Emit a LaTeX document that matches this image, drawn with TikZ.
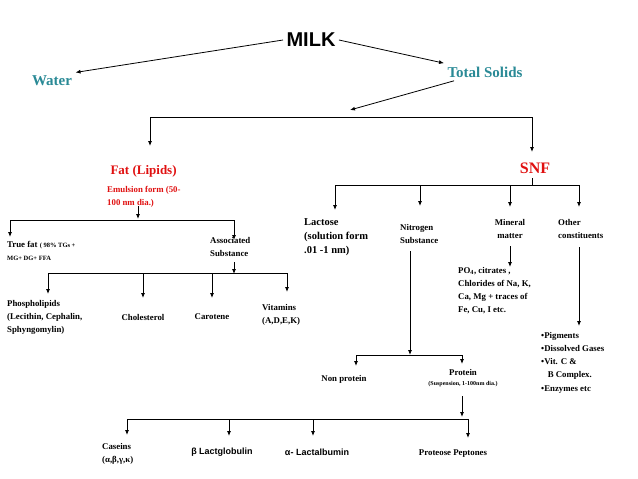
\documentclass[tikz,border=0pt]{standalone}
\usepackage{fontspec}
\setmainfont{Liberation Serif}
\setsansfont{Liberation Sans}
\usetikzlibrary{arrows.meta}
\definecolor{teal2}{HTML}{2A8A96}
\definecolor{red2}{HTML}{E01010}
\begin{document}
\begin{tikzpicture}[x=1pt,y=-1pt,
  t/.style={font=\bfseries\fontsize{8.8}{13.2}\selectfont,align=left,inner sep=0pt},
  m/.style={font=\bfseries\fontsize{10.5}{14}\selectfont,align=left,inner sep=0pt},
  ar/.style={-{Latex[length=5pt,width=4pt]},line width=0.8pt},
  ln/.style={line width=0.8pt}]
\useasboundingbox (0,0) rectangle (638,479);
\node[font=\sffamily\bfseries\fontsize{20}{24}\selectfont] (milk) at (311,40) {MILK};
\node[font=\bfseries\fontsize{15}{18}\selectfont,text=teal2] (water) at (52,81) {Water};
\node[font=\bfseries\fontsize{15}{18}\selectfont,text=teal2] (ts) at (485,72) {Total Solids};
\draw[ar] (milk.west) -- (water.north east);
\draw[ar] (milk.east) -- (ts.north west);
\coordinate (tsb) at (350,110);
\draw[ar] (ts.south west) ++(10,0) -- (tsb);
% main split
\coordinate (b1) at (150,117); \coordinate (b2) at (532,117);
\draw[ln] (b1) -- (b2);
\coordinate (fa) at (150,146); \coordinate (sa) at (532,152);
\draw[ar] (b1) -- (fa); \draw[ar] (b2) -- (sa);
\node[font=\bfseries\fontsize{13}{16}\selectfont,text=red2,anchor=west] (fat) at (107,171) {Fat (Lipids)};
\node[t,text=red2,anchor=north west] (emul) at (107,186) {Emulsion form (50-\\100 nm dia.)};
\node[font=\bfseries\fontsize{16}{18}\selectfont,text=red2] (snf) at (535,168) {SNF};
% fat branch
\coordinate (f0) at (138,206); \coordinate (f1) at (138,219);
\draw[ar] (f0) -- (f1);
\coordinate (fl) at (10,220); \coordinate (fr) at (234,220);
\draw[ln] (fl) -- (fr);
\node[t,anchor=north west] (tf) at (7,241) {True fat {\fontsize{6.5}{8}\selectfont( 98\% TGs +}\\{\fontsize{6.5}{8}\selectfont MG+ DG+ FFA}};
\node[t,anchor=north west] (as) at (210,237) {Associated\\Substance};
\draw[ar] (fl) -- (10,237);
\draw[ar] (fr) -- (234,240);
\coordinate (a0) at (234,262); \coordinate (a1) at (234,274);
\draw[ar] (a0) -- (a1);
\draw[ln] (48,273) -- (287,273);
\node[t,anchor=north west] (ph) at (7,300) {Phospholipids\\(Lecithin, Cephalin,\\Sphyngomylin)};
\node[t] (ch) at (143,317) {Cholesterol};
\node[t] (ca) at (212,317) {Carotene};
\node[t,anchor=north west] (vi) at (262,304) {Vitamins\\(A,D,E,K)};
\draw[ar] (48,273) -- (48,294);
\draw[ar] (143,273) -- (143,298);
\draw[ar] (212,273) -- (212,298);
\draw[ar] (287,273) -- (287,292);
% SNF branch
\draw[ln] (532,178) -- (532,185);
\draw[ln] (335,185) -- (579,185);
\draw[ar] (335,185) -- (335,210);
\draw[ar] (420,185) -- (420,206);
\draw[ar] (510,185) -- (510,207);
\draw[ar] (579,185) -- (579,207);
\node[m,anchor=north west] (lac) at (304,218) {Lactose\\(solution form\\ .01 -1 nm)};
\node[t,anchor=north west] (nit) at (400,224) {Nitrogen\\Substance};
\node[t,align=center] (min) at (510,229) {Mineral\\matter};
\node[t,anchor=north west] (oth) at (558,219) {Other\\constituents};
\draw[ar] (510,246) -- (510,267);
\node[t,anchor=north west] (po) at (458,267) {PO\textsubscript{4}, citrates ,\\Chlorides of Na, K,\\Ca, Mg + traces of\\Fe, Cu, I etc.};
\draw[ar] (579,247) -- (579,326);
\node[t,anchor=north west] (oc) at (541,332) {•Pigments\\•Dissolved Gases\\•Vit. C \&\\\ \ \ B Complex.\\•Enzymes etc};
% nitrogen
\draw[ar] (410,251) -- (410,355);
\draw[ln] (356,355) -- (462,355);
\draw[ar] (356,355) -- (356,366);
\draw[ar] (462,355) -- (462,364);
\node[t] (np) at (344,379) {Non protein};
\node[t] (pr) at (463,372) {Protein};
\node[font=\bfseries\fontsize{6}{8}\selectfont,inner sep=0pt] (sus) at (463,384) {(Suspension, 1-100nm dia.)};
\draw[ar] (462,396) -- (462,417);
\draw[ln] (127,419) -- (468,419);
\draw[ar] (127,419) -- (127,435);
\draw[ar] (229,419) -- (229,436);
\draw[ar] (313,419) -- (313,436);
\draw[ar] (468,419) -- (468,438);
\node[t,anchor=north west] (cas) at (102,443) {Caseins\\(α,β,γ,κ)};
\node[font=\sffamily\bfseries\fontsize{9}{11}\selectfont] (bl) at (222,452) {β Lactglobulin};
\node[font=\sffamily\bfseries\fontsize{9}{11}\selectfont] (al) at (317,452) {α- Lactalbumin};
\node[t] (pp) at (453,454) {Proteose Peptones};
\end{tikzpicture}
\end{document}
